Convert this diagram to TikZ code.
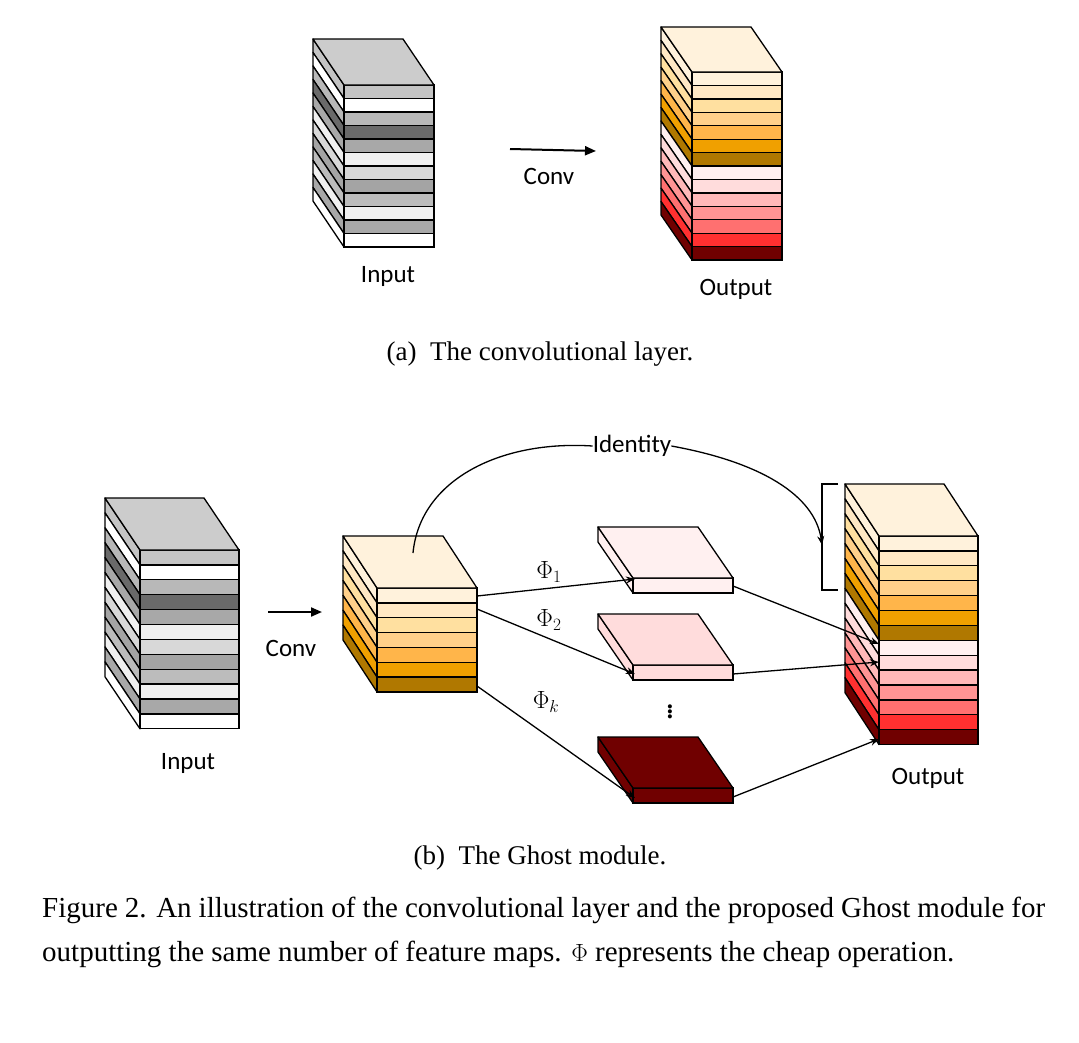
\documentclass[tikz,border=0pt]{standalone}
\usepackage{fontspec}
\setmainfont{Liberation Serif}
\newfontfamily\carl{Carlito}
\usetikzlibrary{arrows.meta}
\definecolor{o1}{HTML}{FFF2DC}\definecolor{o2}{HTML}{FFE8C4}\definecolor{o3}{HTML}{FFE0A0}
\definecolor{o4}{HTML}{FFD08A}\definecolor{o5}{HTML}{FFB54A}\definecolor{o6}{HTML}{F0A000}
\definecolor{o7}{HTML}{B07800}\definecolor{r1}{HTML}{FFF0F0}\definecolor{r2}{HTML}{FFDCDC}
\definecolor{r3}{HTML}{FFB8B8}\definecolor{r4}{HTML}{FF9494}\definecolor{r5}{HTML}{FF7070}
\definecolor{r6}{HTML}{FF3030}\definecolor{r7}{HTML}{700000}
\definecolor{g1}{HTML}{C4C4C4}\definecolor{g2}{HTML}{FFFFFF}\definecolor{g3}{HTML}{B8B8B8}
\definecolor{g4}{HTML}{6A6A6A}\definecolor{g5}{HTML}{A8A8A8}\definecolor{g6}{HTML}{F0F0F0}
\definecolor{g7}{HTML}{D8D8D8}\definecolor{g8}{HTML}{A4A4A4}\definecolor{g9}{HTML}{BCBCBC}
\definecolor{gt}{HTML}{CCCCCC}
\newcommand{\mystack}[8]{% x0 ytop w h dx dy colors topcolor
  \foreach \c [count=\i from 0] in {#7}{
    \pgfmathsetmacro{\ya}{#2+\i*#4}
    \pgfmathsetmacro{\yb}{#2+(\i+1)*#4}
    \filldraw[fill=\c,line width=1.3pt,line join=round] (#1,\ya)--(#1,\yb)--(#1-#5,\yb-#6)--(#1-#5,\ya-#6)--cycle;
    \filldraw[fill=\c,line width=1.3pt] (#1,\ya) rectangle (#1+#3,\yb);
  }
  \filldraw[fill=#8,line width=1.3pt,line join=round] (#1,#2)--(#1+#3,#2)--(#1+#3-#5,#2-#6)--(#1-#5,#2-#6)--cycle;
}
\tikzset{lab/.style={font=\carl\fontsize{25}{25}\selectfont,inner sep=0pt},
 arr/.style={line width=1.3pt,-{Stealth[length=9pt,width=7pt]}},
 capt/.style={font=\fontsize{27}{27}\selectfont,inner sep=0pt}}
\begin{document}
\begin{tikzpicture}[x=1pt,y=-1pt]
\useasboundingbox (0,0) rectangle (1079,1042);
% (a)
\mystack{344}{85}{90}{13.5}{31}{46}{g1,g2,g3,g4,g5,g6,g7,g8,g9,g6,g5,g2}{gt}
\mystack{692}{72}{90}{13.43}{31}{45}{o1,o2,o3,o4,o5,o6,o7,r1,r2,r3,r4,r5,r6,r7}{o1}
\coordinate (ca1) at (510,149); \coordinate (ca2) at (596,151);
\draw[line width=2pt,-{Triangle[length=11pt,width=9pt]}] (ca1)--(ca2);
\node[lab] (conva) at (549,176) {Conv};
\node[lab] (ina) at (388,276) {Input};
\node[lab] (outa) at (736,289) {Output};
\node[capt] (capa) at (540,354) {(a)\ \ The convolutional layer.};
% (b)
\mystack{140}{550}{99}{14.9}{35}{52}{g1,g2,g3,g4,g5,g6,g7,g8,g9,g6,g5,g2}{gt}
\mystack{377}{588}{100}{14.85}{34}{52}{o1,o2,o3,o4,o5,o6,o7}{o1}
\mystack{633}{578}{100}{15}{35}{51}{r1}{r1}
\mystack{633}{665}{100}{15}{35}{51}{r2}{r2}
\mystack{633}{788}{100}{15}{35}{51}{r7}{r7}
\mystack{879}{536}{99}{14.9}{34}{52}{o1,o2,o3,o4,o5,o6,o7,r1,r2,r3,r4,r5,r6,r7}{o1}
\coordinate (cb1) at (268,612); \coordinate (cb2) at (322,612);
\draw[line width=2pt,-{Triangle[length=11pt,width=9pt]}] (cb1)--(cb2);
\node[lab] (convb) at (291,648) {Conv};
\node[lab] (inb) at (188,763) {Input};
\node[lab] (outb) at (928,778) {Output};
\node[lab] (id) at (632,446) {Identity};
\coordinate (m1) at (477,596); \coordinate (m2) at (477,609); \coordinate (m3) at (477,686);
\coordinate (p1in) at (635,579); \coordinate (p2in) at (635,674); \coordinate (pkin) at (635,798);
\coordinate (p1out) at (733,586); \coordinate (p2out) at (733,674); \coordinate (pkout) at (733,797);
\coordinate (t1) at (879,644); \coordinate (t2) at (879,662); \coordinate (tk) at (879,739);
\draw[arr] (m1)--(p1in); \draw[arr] (m2)--(p2in); \draw[arr] (m3)--(pkin);
\draw[arr] (p1out)--(t1); \draw[arr] (p2out)--(t2); \draw[arr] (pkout)--(tk);
\node[font=\fontsize{25}{25}\selectfont] (f1) at (549,572) {$\Phi_1$};
\node[font=\fontsize{25}{25}\selectfont] (f2) at (549,620) {$\Phi_2$};
\node[font=\fontsize{25}{25}\selectfont] (fk) at (546,702) {$\Phi_k$};
\node[font=\fontsize{25}{25}\selectfont\bfseries,inner sep=0pt] (dots) at (670,709) {$\vdots$};
\coordinate (s1) at (413,553);
\draw[line width=1.3pt] (s1) .. controls (420,480) and (500,440) .. (id.west);
\coordinate (br) at (822,545);
\draw[arr] (id.east) .. controls (760,462) and (815,495) .. (br);
\draw[line width=1.3pt] (838,484)--(822,484)--(822,590)--(838,590);
\node[capt] (capb) at (540,858) {(b)\ \ The Ghost module.};
\node[anchor=north west,inner sep=0pt,align=justify,text width=1003pt,font=\fontsize{29}{43.5}\selectfont] (fig) at (42,897)
 {Figure 2. An illustration of the convolutional layer and the proposed Ghost module for outputting the same number of feature maps. $\Phi$ represents the cheap operation.};
\end{tikzpicture}
\end{document}
